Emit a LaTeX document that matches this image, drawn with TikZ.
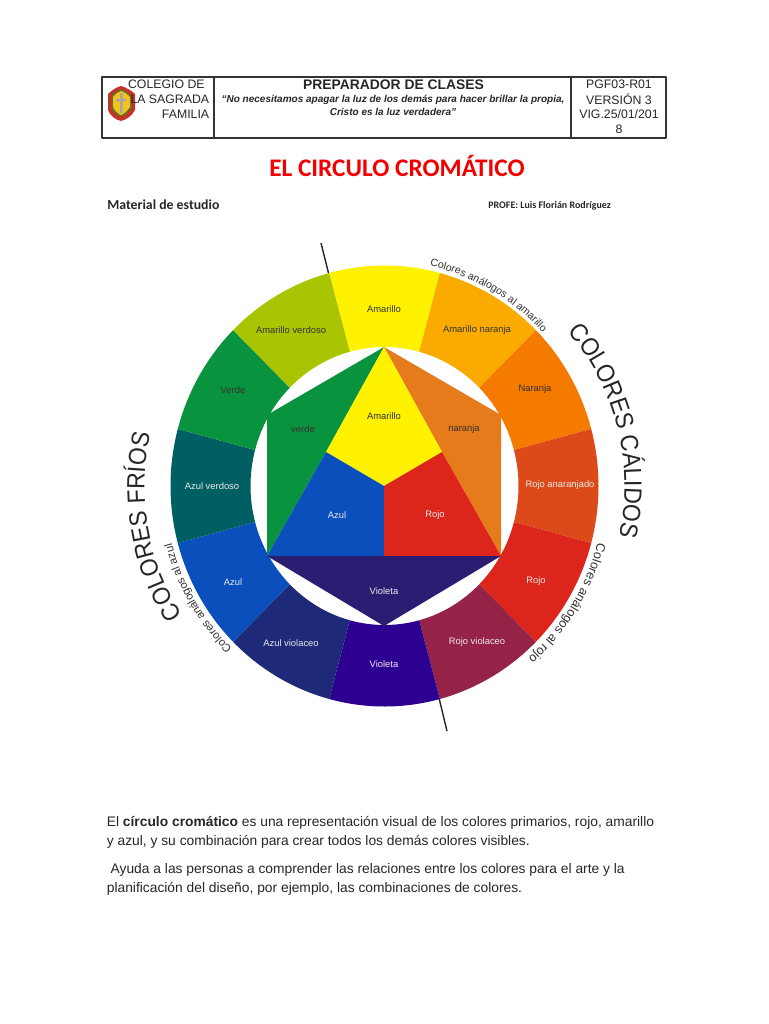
\documentclass[tikz,border=0pt]{standalone}
\usepackage{fontspec}
\usetikzlibrary{decorations.text}
\setmainfont{Liberation Sans}
\newfontfamily\titlefont{Carlito}
\newfontfamily\wheelfont[FakeStretch=0.92]{Liberation Sans}
\definecolor{cAmarillo}{HTML}{FFF200}
\definecolor{cAmaNar}{HTML}{FBAB00}
\definecolor{cNaranja}{HTML}{F57A00}
\definecolor{cRojoNar}{HTML}{DB4A18}
\definecolor{cRojo}{HTML}{DC261B}
\definecolor{cRojoVio}{HTML}{952347}
\definecolor{cVioleta}{HTML}{2E0092}
\definecolor{cAzulVio}{HTML}{1E2A78}
\definecolor{cAzul}{HTML}{0A4FBC}
\definecolor{cAzulVer}{HTML}{005F63}
\definecolor{cVerde}{HTML}{0A933F}
\definecolor{cAmaVer}{HTML}{A9C400}
\definecolor{cNarIn}{HTML}{E57B1B}
\definecolor{cVioIn}{HTML}{2A1D72}
\definecolor{cEscudo}{HTML}{C8302A}
\definecolor{cOro}{HTML}{F2C21E}
\definecolor{cOliva}{HTML}{6F6A1E}
\newcommand{\bigletters}{\fontsize{14.2}{16}\wheelfont\color{black!85}}
\newcommand{\smallletters}[1]{\fontsize{#1}{8}\selectfont\color{black!80}}
\tikzset{
  lbldark/.style={font=\fontsize{5.35}{7}\selectfont,text=black!80},
  lbllight/.style={font=\fontsize{5.35}{7}\selectfont,text=white!92!black},
  headcell/.style={font=\fontsize{7}{9}\selectfont,text=black!85,inner sep=0pt},
  bodytext/.style={font=\fontsize{7.86}{10}\selectfont,text=black!85,anchor=base west,inner sep=0pt},
}
\begin{document}
\begin{tikzpicture}[x=0.02cm,y=-0.02cm,line join=round]
  \useasboundingbox (0,0) rectangle (768,1024);
  % header table
  \draw[line width=0.6pt,black!80] (102,77) rectangle (666,138);
  \draw[line width=0.6pt,black!80] (214,77) -- (214,138) (571,77) -- (571,138);
  % logo
  \fill[cEscudo] (108,94) .. controls (112,90) and (117,87) .. (121,86) .. controls (125,87) and (131,90) .. (135,94) -- (135,110) .. controls (132,116) and (126,120) .. (121,121) .. controls (116,120) and (110,116) .. (108,110) -- cycle;
  \fill[cOliva] (111,96) .. controls (114,92) and (118,90) .. (121,89) .. controls (124,90) and (128,92) .. (132,96) -- (132,108) .. controls (129,113) and (125,116) .. (121,117) .. controls (117,116) and (113,113) .. (111,108) -- cycle;
  \fill[cOro] (113,97) .. controls (115,94) and (118,92) .. (121,91) .. controls (124,92) and (127,94) .. (130,97) -- (130,107) .. controls (127,111) and (124,114) .. (121,115) .. controls (118,114) and (115,111) .. (113,107) -- cycle;
  \fill[black!35] (120,93) rectangle (122.5,113) (116,99) rectangle (126,101.5);
  \node[headcell,anchor=east] (colegio) at (205,84.5) {COLEGIO DE};
  \node[headcell,anchor=east] (sagrada) at (209.5,99) {LA SAGRADA};
  \node[headcell,anchor=east] (familia) at (209.5,114) {FAMILIA};
  \node[headcell,font=\fontsize{7.9}{9}\selectfont\bfseries] (prep) at (393.5,85) {PREPARADOR DE CLASES};
  \node[font=\fontsize{5.7}{7.3}\selectfont\bfseries\itshape,text=black!85,align=center,inner sep=0pt] (lema) at (393,105.5) {“No necesitamos apagar la luz de los demás para hacer brillar la propia,\\Cristo es la luz verdadera”};
  \node[headcell] (pgf) at (619,84.5) {PGF03-R01};
  \node[headcell] (version) at (619,99.5) {VERSIÓN 3};
  \node[headcell] (vig) at (619,114.5) {VIG.25/01/201};
  \node[headcell] (ocho) at (619,129.5) {8};
  % titles
  \node[font=\fontsize{14.4}{17}\titlefont\bfseries,text=red!95!black,inner sep=0pt] (titulo) at (397,166) {EL CIRCULO CROMÁTICO};
  \node[font=\fontsize{7.85}{10}\titlefont\bfseries,text=black!85,anchor=west,inner sep=0pt] (material) at (107,204.5) {Material de estudio};
  \node[font=\fontsize{5.68}{7}\titlefont\bfseries,text=black!85,anchor=west,inner sep=0pt] (profe) at (488,206) {PROFE: Luis Florián Rodríguez};
  % axis line
  \coordinate (axisA) at (321,243);
  \coordinate (axisB) at (328.5,273);
  \coordinate (axisC) at (439,698);
  \coordinate (axisD) at (447,731);
  \draw[line width=0.8pt,black!85] (axisA) -- (axisB);
  \draw[line width=0.8pt,black!85] (axisC) -- (axisD);
  % wheel
  \begin{scope}[shift={(384.5,486)},y=0.02cm]
    \foreach \ang/\col in {75/cAmarillo,45/cAmaNar,15/cNaranja,-15/cRojoNar,-45/cRojo,-75/cRojoVio,-105/cVioleta,-135/cAzulVio,-165/cAzul,-195/cAzulVer,-225/cVerde,-255/cAmaVer} {
      \pgfmathsetmacro{\angb}{\ang+30}
      \fill[\col] (\ang:214 and 220.5) arc[start angle=\ang,end angle=\angb,x radius=214,y radius=220.5]
        -- (\angb:134 and 139) arc[start angle=\angb,end angle=\ang,x radius=134,y radius=139] -- cycle;
    }
    % words round the wheel
    \path[decorate,decoration={text along path,text align=center,text={|\bigletters|COLORES CÁLIDOS}}]
      (50:240 and 240) arc[start angle=50,end angle=-22,radius=240];
    \path[decorate,decoration={text along path,text align=center,text={|\bigletters|COLORES FRÍOS}}]
      (226:240 and 240) arc[start angle=226,end angle=154,radius=240];
    \path[decorate,decoration={text along path,text align=center,text={|\smallletters{6}|Colores análogos al amarillo}}]
      (84.5:216 and 225) arc[start angle=84.5,end angle=36.5,x radius=216,y radius=225];
    \path[decorate,decoration={text along path,text align=center,text={|\smallletters{6.4}|Colores análogos al azul}}]
      (237:220 and 226) arc[start angle=237,end angle=184,x radius=220,y radius=226];
    \path[decorate,decoration={text along path,text align=center,text={|\smallletters{7.2}|Colores análogos al rojo}}]
      (-3:220 and 227) arc[start angle=-3,end angle=-61,x radius=220,y radius=227];
  \end{scope}
  % inner shapes
  \coordinate (top) at (384,347);
  \coordinate (ul) at (267,415);
  \coordinate (ur) at (501,415);
  \coordinate (ll) at (267,556);
  \coordinate (lr) at (501,556);
  \coordinate (bot) at (384,626);
  \coordinate (mid) at (384,486);
  \coordinate (ml) at (326,452);
  \coordinate (mr) at (442,452);
  \coordinate (mb) at (384,556);
  \fill[cVerde] (top) -- (ul) -- (ll) -- (ml) -- cycle;
  \fill[cNarIn] (top) -- (ur) -- (lr) -- (mr) -- cycle;
  \fill[cAmarillo] (top) -- (mr) -- (mid) -- (ml) -- cycle;
  \fill[cAzul] (ml) -- (mid) -- (mb) -- (ll) -- cycle;
  \fill[cRojo] (mr) -- (mid) -- (mb) -- (lr) -- cycle;
  \fill[cVioIn] (ll) -- (lr) -- (bot) -- cycle;
  % labels of the ring
  \node[lbldark] (amaring) at (384,309) {Amarillo};
  \node[lbldark] (amaver) at (291,330) {Amarillo verdoso};
  \node[lbldark] (vering) at (233,390) {Verde};
  \node[lbllight] (azver) at (212,486) {Azul verdoso};
  \node[lbllight] (azring) at (233,582) {Azul};
  \node[lbllight] (azvio) at (291,643) {Azul violaceo};
  \node[lbllight] (viring) at (384,664) {Violeta};
  \node[lbllight] (rovio) at (477,642) {Rojo violaceo};
  \node[lbllight] (roring) at (536,581) {Rojo};
  \node[lbllight] (ronar) at (560,485) {Rojo anaranjado};
  \node[lbldark] (naring) at (535,389) {Naranja};
  \node[lbldark] (amanar) at (477,330) {Amarillo naranja};
  % labels of the middle
  \node[lbldark] (amain) at (384,416) {Amarillo};
  \node[lbldark] (verin) at (303,429) {verde};
  \node[lbldark] (narin) at (464,429) {naranja};
  \node[lbllight] (azin) at (337,515) {Azul};
  \node[lbllight] (roin) at (435,515) {Rojo};
  \node[lbllight] (vioin) at (384,591) {Violeta};
  % text below
  \node[bodytext] (par1) at (106.5,826.5) {El \textbf{círculo cromático} es una representación visual de los colores primarios, rojo, amarillo};
  \node[bodytext] (par2) at (106.5,845.5) {y azul, y su combinación para crear todos los demás colores visibles.};
  \node[bodytext] (par3) at (106.5,873.5) {\ Ayuda a las personas a comprender las relaciones entre los colores para el arte y la};
  \node[bodytext] (par4) at (106.5,892) {planificación del diseño, por ejemplo, las combinaciones de colores.};
\end{tikzpicture}
\end{document}
